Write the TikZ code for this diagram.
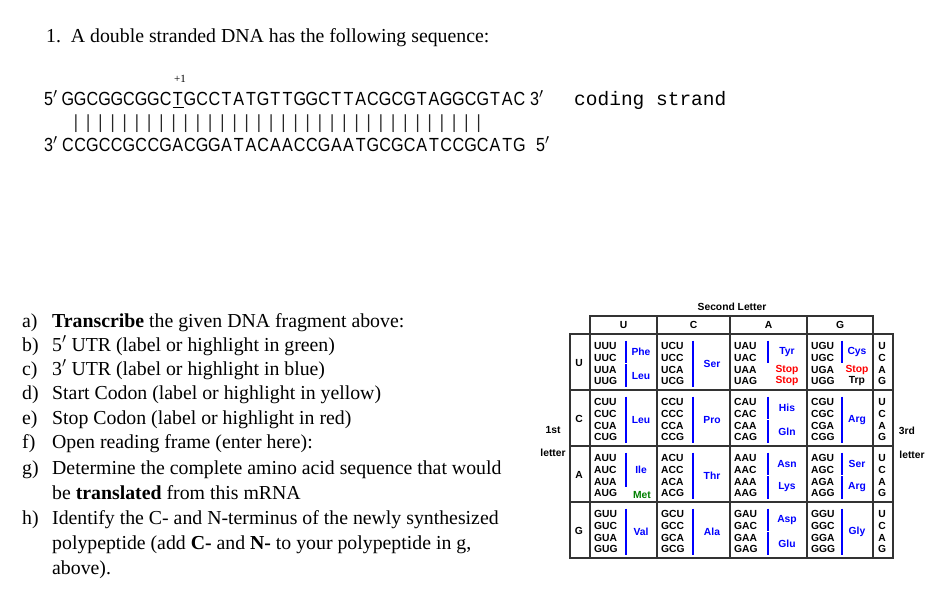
\documentclass[tikz,border=0pt]{standalone}
\usepackage{fontspec}
\setmainfont{Liberation Serif}
\newfontfamily\seqf{Liberation Sans}[FakeStretch=0.85]
\newfontfamily\monof{Liberation Mono}
\newfontfamily\tabf{Liberation Sans}
\newcommand\cellcod[3]{% x, rowtop, prefix
  \foreach \t [count=\k from 0] in {U,C,A,G}
    \node[cod] at (#1,#2+12+11.8*\k) {#3\t};}
\newcommand\grp[7]{% barx, labx, rowtop, i, j, label, color
  \pgfmathsetmacro\ya{#3+12+11.8*(#4-1)-5.5}
  \pgfmathsetmacro\yb{#3+12+11.8*(#5-1)+5.5}
  \pgfmathsetmacro\ym{(\ya+\yb)/2}
  \draw[bar] (#1,\ya) -- (#1,\yb);
  \node[aa,text=#7] at (#2,\ym) {#6};}
\newcommand\lab[5]{% labx,rowtop,i,label,color
  \pgfmathsetmacro\ym{#2+12+11.8*(#3-1)}
  \node[aa,text=#5] at (#1,\ym) {#4};}
\begin{document}
\begin{tikzpicture}[x=1pt,y=-1pt,
  txt/.style={anchor=base west,inner sep=0,font=\fontsize{19.8}{22}\selectfont},
  sq/.style={inner sep=0,anchor=base,font=\seqf\fontsize{19}{20}\selectfont},
  tb/.style={inner sep=0,font=\tabf\bfseries\fontsize{10.3}{11}\selectfont},
  cod/.style={tb,anchor=west},
  aa/.style={tb,text=blue},
  bar/.style={blue,line width=1.6pt},
  grid/.style={black!80,line width=1.2pt}]
\useasboundingbox (0,0) rectangle (938,614);
% header
\node[txt] (q1) at (46,42) {1.\ \ A double stranded DNA has the following sequence:};
\node[inner sep=0,font=\fontsize{11}{11}\selectfont] (p1) at (180,79) {+1};
\node[sq,anchor=base west] (t5) at (44,105) {5$'$};
\node[sq,anchor=base west] (b3) at (44,151) {3$'$};
\foreach \c [count=\i from 0] in {G,G,C,G,G,C,G,G,C,T,G,C,C,T,A,T,G,T,T,G,G,C,T,T,A,C,G,C,G,T,A,G,G,C,G,T,A,C}
  \node[sq] (tn\i) at (68+12.2*\i,105) {\c};
\foreach \c [count=\i from 0] in {C,C,G,C,C,G,C,C,G,A,C,G,G,A,T,A,C,A,A,C,C,G,A,A,T,G,C,G,C,A,T,C,C,G,C,A,T,G}
  \node[sq] (bn\i) at (68+12.2*\i,151) {\c};
\foreach \i in {0,...,33}
  \node[sq,text=black!85] (pb\i) at (76+12.2*\i,128) {|};
\draw[line width=1pt] (172.5,107.5) -- (183.5,107.5);
\node[sq,anchor=base west] (t3) at (530,105) {3$'$};
\node[sq,anchor=base west] (b5) at (536,151) {5$'$};
\node[anchor=base west,inner sep=0,font=\monof\fontsize{19.5}{20}\selectfont] (cs) at (574,105) {coding strand};
% questions
\foreach \y/\l/\t [count=\n] in {
 327/a)/{\textbf{Transcribe} the given DNA fragment above:},
 351/b)/{5$'$ UTR (label or highlight in green)},
 375/c)/{3$'$ UTR (label or highlight in blue)},
 399/d)/{Start Codon (label or highlight in yellow)},
 424/e)/{Stop Codon (label or highlight in red)},
 448/f)/{Open reading frame (enter here):},
 474/g)/{Determine the complete amino acid sequence that would},
 524/h)/{Identify the C- and N-terminus of the newly synthesized}}{
  \node[txt] (ql\n) at (22,\y) {\l};
  \node[txt] (qt\n) at (52,\y) {\t};
}
\node[txt] (g2) at (52,499) {be \textbf{translated} from this mRNA};
\node[txt] (h2) at (52,549) {polypeptide (add \textbf{C-} and \textbf{N-} to your polypeptide in g,};
\node[txt] (h3) at (52,574) {above).};
% table grid
\draw[grid] (590,334) -- (590,316) -- (873,316) -- (873,334);
\foreach \x in {657,730,807} \draw[grid] (\x,316) -- (\x,558);
\draw[grid] (570,334) rectangle (893,558);
\draw[grid] (590,334) -- (590,558);
\draw[grid] (873,334) -- (873,558);
\foreach \y in {390,446,502} \draw[grid] (570,\y) -- (893,\y);
\node[tb] (sl) at (732,307) {Second Letter};
\foreach \l/\x in {U/623.5,C/693.5,A/768.5,G/840}
  \node[tb] at (\x,325) {\l};
\foreach \l/\y in {U/334,C/390,A/446,G/502}{
  \node[tb] at (579,\y+29) {\l};
  \foreach \t [count=\k from 0] in {U,C,A,G}
    \node[tb] at (882,\y+12+11.8*\k) {\t};
  \cellcod{594}{\y}{\l U}
  \cellcod{661}{\y}{\l C}
  \cellcod{734}{\y}{\l A}
  \cellcod{811}{\y}{\l G}
}
\node[tb] (f1) at (553,430) {1st};
\node[tb] (f2) at (553,453) {letter};
\node[tb] (r1) at (907,431) {3rd};
\node[tb] (r2) at (912,455) {letter};
% row U
\grp{626}{641}{334}{1}{2}{Phe}{blue}
\grp{626}{641}{334}{3}{4}{Leu}{blue}
\grp{693}{712}{334}{1}{4}{Ser}{blue}
\grp{768}{787}{334}{1}{2}{Tyr}{blue}
\lab{787}{334}{3}{Stop}{red}
\lab{787}{334}{4}{Stop}{red}
\grp{842}{857}{334}{1}{2}{Cys}{blue}
\lab{857}{334}{3}{Stop}{red}
\lab{857}{334}{4}{Trp}{black}
% row C
\grp{626}{641}{390}{1}{4}{Leu}{blue}
\grp{693}{712}{390}{1}{4}{Pro}{blue}
\grp{768}{787}{390}{1}{2}{His}{blue}
\grp{768}{787}{390}{3}{4}{Gln}{blue}
\grp{842}{857}{390}{1}{4}{Arg}{blue}
% row A
\grp{626}{641}{446}{1}{3}{Ile}{blue}
\node[aa,text=green!50!black] at (642,495) {Met};
\grp{693}{712}{446}{1}{4}{Thr}{blue}
\grp{768}{787}{446}{1}{2}{Asn}{blue}
\grp{768}{787}{446}{3}{4}{Lys}{blue}
\grp{842}{857}{446}{1}{2}{Ser}{blue}
\grp{842}{857}{446}{3}{4}{Arg}{blue}
% row G
\grp{626}{641}{502}{1}{4}{Val}{blue}
\grp{693}{712}{502}{1}{4}{Ala}{blue}
\grp{768}{787}{502}{1}{2}{Asp}{blue}
\grp{768}{787}{502}{3}{4}{Glu}{blue}
\grp{842}{857}{502}{1}{4}{Gly}{blue}
\end{tikzpicture}
\end{document}
